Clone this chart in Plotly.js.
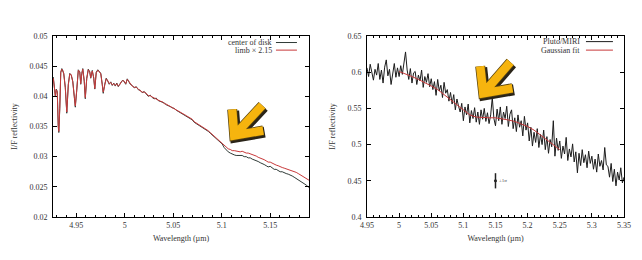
<!DOCTYPE html>
<html>
<head>
<meta charset="utf-8">
<script src="https://cdn.plot.ly/plotly-3.0.1.min.js"></script>
<style>html,body{margin:0;padding:0;background:#fff;}#chart{width:642px;height:260px;}</style>
</head>
<body>
<div id="chart"></div>
<script>
// ---- Left panel: center of disk vs limb x 2.15 ----
const waveLeft = [4.9263,4.9273,4.9284,4.9294,4.9304,4.9314,4.9320,4.9330,4.9340,4.9351,4.9361,4.9371,
4.9387,4.9402,4.9418,4.9433,4.9448,4.9464,4.9479,4.9490,4.9505,4.9521,
4.9536,4.9546,4.9557,4.9567,4.9582,4.9593,4.9608,4.9624,4.9639,4.9649,
4.9665,4.9680,4.9691,4.9706,4.9722,4.9737,4.9753,4.9768,4.9778,4.9794,
4.9809,4.9825,4.9840,4.9856,4.9871,4.9887,4.9902,4.9918,4.9933,4.9948,
4.9964,4.9979,4.9995,5.0010,5.0026,5.0041,5.0057,
5.0077,5.0098,5.0119,5.0139,5.0160,5.0180,5.0201,5.0222,5.0242,5.0263,
5.0283,5.0304,5.0325,5.0345,5.0366,5.0387,5.0407,5.0428,5.0448,5.0469,
5.0490,5.0510,5.0531,5.0552,5.0572,5.0593,5.0613,5.0634,5.0655,5.0675,
5.0696,5.0716,5.0737,5.0758,5.0778,5.0799,5.0820,5.0840,5.0861,5.0881,
5.0902,5.0923,5.0943,5.0964,5.0985,
5.1005,5.1026,5.1046,5.1067,5.1088,5.1108,5.1129,5.1149,5.1170,5.1191,
5.1211,5.1232,5.1253,5.1273,5.1294,5.1314,5.1335,5.1356,5.1376,5.1397,
5.1418,5.1438,5.1459,5.1479,5.1500,5.1521,5.1541,5.1562,5.1582,5.1603,
5.1624,5.1644,5.1665,5.1686,5.1706,5.1727,5.1747,5.1768,5.1789,5.1809,
5.1830,5.1851,5.1871,5.1892,5.1900];

const centerDisk = [0.0432,0.0415,0.0400,0.0412,0.0408,0.0350,0.0340,0.0380,0.0440,0.0446,0.0442,0.0438,
0.0415,0.0372,0.0420,0.0438,0.0435,0.0425,0.0400,0.0382,0.0410,0.0444,
0.0440,0.0420,0.0438,0.0446,0.0425,0.0396,0.0430,0.0445,0.0440,0.0430,
0.0443,0.0430,0.0412,0.0440,0.0444,0.0440,0.0438,0.0420,0.0405,0.0420,
0.0430,0.0425,0.0420,0.0424,0.0418,0.0422,0.0417,0.0422,0.0416,0.0420,
0.0423,0.0427,0.0424,0.0420,0.0429,0.0424,0.0420,
0.0418,0.0414,0.0416,0.0411,0.0410,0.0406,0.0408,0.0404,0.0400,0.0402,
0.0398,0.0396,0.0397,0.0393,0.0392,0.0390,0.0389,0.0386,0.0385,0.0383,
0.0381,0.0380,0.0377,0.0375,0.0373,0.0372,0.0369,0.0367,0.0366,0.0364,
0.0361,0.0357,0.0355,0.0353,0.0351,0.0349,0.0347,0.0344,0.0342,0.0339,
0.0336,0.0333,0.0331,0.0328,0.0325,
0.0321,0.0315,0.0311,0.0308,0.0306,0.0304,0.0303,0.0302,0.0302,0.0301,
0.0302,0.0300,0.0300,0.0298,0.0298,0.0296,0.0295,0.0293,0.0292,0.0290,
0.0289,0.0287,0.0285,0.0283,0.0284,0.0281,0.0279,0.0279,0.0277,0.0275,
0.0275,0.0273,0.0272,0.0271,0.0270,0.0268,0.0266,0.0264,0.0262,0.0259,
0.0257,0.0255,0.0253,0.0250,0.0249];

const limbScaled = [0.0430,0.0416,0.0401,0.0411,0.0407,0.0352,0.0342,0.0381,0.0439,0.0445,0.0443,0.0437,
0.0414,0.0374,0.0419,0.0437,0.0436,0.0424,0.0401,0.0384,0.0411,0.0443,
0.0441,0.0421,0.0437,0.0445,0.0426,0.0398,0.0429,0.0444,0.0441,0.0431,
0.0442,0.0431,0.0413,0.0439,0.0443,0.0441,0.0437,0.0421,0.0407,0.0419,
0.0429,0.0426,0.0421,0.0423,0.0419,0.0421,0.0418,0.0421,0.0417,0.0419,
0.0424,0.0426,0.0425,0.0421,0.0428,0.0425,0.0421,
0.0417,0.0415,0.0415,0.0412,0.0409,0.0407,0.0407,0.0405,0.0401,0.0401,
0.0399,0.0397,0.0396,0.0394,0.0392,0.0391,0.0388,0.0387,0.0385,0.0384,
0.0381,0.0379,0.0378,0.0376,0.0374,0.0372,0.0370,0.0368,0.0366,0.0364,
0.0362,0.0358,0.0356,0.0354,0.0352,0.0350,0.0348,0.0345,0.0343,0.0340,
0.0337,0.0334,0.0331,0.0329,0.0326,
0.0323,0.0319,0.0316,0.0313,0.0312,0.0310,0.0310,0.0309,0.0309,0.0308,
0.0309,0.0307,0.0306,0.0306,0.0305,0.0303,0.0302,0.0301,0.0299,0.0298,
0.0296,0.0295,0.0293,0.0291,0.0291,0.0289,0.0287,0.0286,0.0285,0.0283,
0.0282,0.0281,0.0280,0.0279,0.0278,0.0277,0.0275,0.0274,0.0272,0.0270,
0.0268,0.0266,0.0264,0.0262,0.0261];

// ---- Right panel: Pluto/MIRI spectrum and Gaussian fit ----
const waveRight = [4.95,4.9525,4.955,4.9575,4.96,4.9625,4.965,4.9675,4.97,4.9725,
4.975,4.9775,4.98,4.9825,4.985,4.9875,4.99,4.9925,4.995,4.9975,
5.0,5.0025,5.005,5.0075,5.01,5.0125,5.015,5.0175,5.02,5.0225,
5.025,5.0275,5.03,5.0325,5.035,5.0375,5.04,5.0425,5.045,5.0475,
5.05,5.0525,5.055,5.0575,5.06,5.0625,5.065,5.0675,5.07,5.0725,
5.075,5.0775,5.08,5.0825,5.085,5.0875,5.09,5.0925,5.095,5.0975,
5.1,5.1025,5.105,5.1075,5.11,5.1125,5.115,5.1175,5.12,5.1225,
5.125,5.1275,5.13,5.1325,5.135,5.1375,5.14,5.1425,5.145,5.1475,
5.15,5.1525,5.155,5.1575,5.16,5.1625,5.165,5.1675,5.17,5.1725,
5.175,5.1775,5.18,5.1825,5.185,5.1875,5.19,5.1925,5.195,5.1975,
5.2,5.2025,5.205,5.2075,5.21,5.2125,5.215,5.2175,5.22,5.2225,
5.225,5.2275,5.23,5.2325,5.235,5.2375,5.24,5.2425,5.245,5.2475,
5.25,5.2525,5.255,5.2575,5.26,5.2625,5.265,5.2675,5.27,5.2725,
5.275,5.2775,5.28,5.2825,5.285,5.2875,5.29,5.2925,5.295,5.2975,
5.3,5.3025,5.305,5.3075,5.31,5.3125,5.315,5.3175,5.32,5.3225,
5.325,5.3275,5.33,5.3325,5.335,5.3375,5.34,5.3425,5.345,5.3475,
5.35];

const plutoMiri = [0.606,0.594,0.611,0.598,0.589,0.604,0.596,0.612,0.590,0.603,
0.585,0.607,0.617,0.595,0.604,0.583,0.600,0.612,0.593,0.606,
0.594,0.609,0.597,0.616,0.628,0.603,0.590,0.605,0.585,0.599,
0.601,0.583,0.596,0.588,0.603,0.579,0.594,0.586,0.598,0.580,
0.591,0.576,0.587,0.568,0.590,0.574,0.582,0.565,0.586,0.571,
0.576,0.560,0.572,0.556,0.569,0.548,0.563,0.553,0.545,0.557,
0.533,0.552,0.541,0.556,0.530,0.547,0.536,0.551,0.531,0.545,
0.528,0.548,0.535,0.550,0.532,0.544,0.529,0.541,0.565,0.536,
0.526,0.549,0.533,0.552,0.528,0.545,0.536,0.553,0.525,0.542,
0.548,0.522,0.537,0.518,0.541,0.524,0.533,0.512,0.539,0.520,
0.530,0.505,0.524,0.498,0.517,0.503,0.522,0.496,0.514,0.500,
0.520,0.493,0.511,0.488,0.507,0.497,0.533,0.484,0.509,0.492,
0.505,0.481,0.498,0.487,0.510,0.478,0.494,0.483,0.501,0.476,
0.490,0.461,0.488,0.471,0.493,0.475,0.486,0.468,0.491,0.474,
0.484,0.466,0.480,0.462,0.487,0.470,0.478,0.465,0.496,0.472,
0.470,0.455,0.474,0.449,0.466,0.443,0.462,0.451,0.468,0.447,
0.455];

const waveFit = [5.00,5.01,5.02,5.03,5.04,5.05,5.06,5.07,5.08,5.09,5.10,5.11,5.12,5.13,
5.14,5.15,5.16,5.17,5.18,5.19,5.20,5.21,5.22,5.23,5.24,5.25];
const gaussFit = [0.601,0.598,0.594,0.590,0.586,0.581,0.576,0.569,0.562,0.554,0.547,0.541,0.538,0.537,
0.537,0.537,0.536,0.534,0.532,0.529,0.525,0.520,0.513,0.506,0.499,0.493];

const sigmaX = [5.15];
const sigmaY = [0.45];
const sigmaErr = [0.0105];

const leftXTicks = [4.95,5.0,5.05,5.1,5.15];
const leftXLabels = ['4.95','5','5.05','5.1','5.15'];
const leftYTicks = [0.02,0.025,0.03,0.035,0.04,0.045,0.05];
const leftYLabels = ['0.02','0.025','0.03','0.035','0.04','0.045','0.05'];
const rightXTicks = [4.95,5.0,5.05,5.1,5.15,5.2,5.25,5.3,5.35];
const rightXLabels = ['4.95','5','5.05','5.1','5.15','5.2','5.25','5.3','5.35'];
const rightYTicks = [0.4,0.45,0.5,0.55,0.6,0.65];
const rightYLabels = ['0.4','0.45','0.5','0.55','0.6','0.65'];

const SERIF = 'Liberation Serif, Times New Roman, serif';
const DARK = '#2f3a36';
const RED = '#c8393a';
const ORANGE = '#f6b40e';

const traces = [
  {x: waveLeft, y: centerDisk, xaxis:'x', yaxis:'y', mode:'lines', name:'center of disk',
   line:{color:DARK, width:1}, showlegend:false},
  {x: waveLeft, y: limbScaled, xaxis:'x', yaxis:'y', mode:'lines', name:'limb × 2.15',
   line:{color:RED, width:1}, showlegend:false},
  {x: waveRight, y: plutoMiri, xaxis:'x2', yaxis:'y2', mode:'lines', name:'Pluto/MIRI',
   line:{color:'#1c1c1c', width:1}, showlegend:false},
  {x: waveFit, y: gaussFit, xaxis:'x2', yaxis:'y2', mode:'lines', name:'Gaussian fit',
   line:{color:RED, width:1}, showlegend:false},
  {x: sigmaX, y: sigmaY, xaxis:'x2', yaxis:'y2', mode:'markers', showlegend:false,
   marker:{color:'#222', size:3},
   error_y:{type:'data', array:sigmaErr, visible:true, color:'#222', thickness:1.5, width:0}}
];

function axisX(domain, range, tickvals, ticktext, anchor){
  return {domain:domain, range:range, anchor:anchor, tickmode:'array', tickvals:tickvals, ticktext:ticktext,
    ticks:'inside', ticklen:4, tickcolor:'#000', showline:true, linecolor:'#000', linewidth:1, mirror:'ticks',
    showgrid:false, zeroline:false, tickfont:{family:SERIF, size:8, color:'#333'},
    minor:{dtick:0.01, ticks:'inside', ticklen:2, tickcolor:'#000', showgrid:false},
    title:{text:'Wavelength (µm)', font:{family:SERIF, size:8, color:'#333'}, standoff:6}};
}
function axisY(range, tickvals, ticktext, anchor){
  return {domain:[0,1], range:range, anchor:anchor, tickmode:'array', tickvals:tickvals, ticktext:ticktext,
    ticks:'inside', ticklen:4, tickcolor:'#000', showline:true, linecolor:'#000', linewidth:1, mirror:'ticks',
    showgrid:false, zeroline:false, tickfont:{family:SERIF, size:8, color:'#333'}, ticklabelstandoff:3,
    title:{text:'I/F reflectivity', font:{family:SERIF, size:8, color:'#333'}, standoff:10}};
}

const arrowLeft = 'M5.1108,0.03783 L5.1129,0.0335 L5.1428,0.03433 M5.1129,0.0335 L5.1418,0.0385';
const shadowLeft = 'M5.1123,0.03758 L5.1144,0.03325 L5.1443,0.03408 M5.1144,0.03325 L5.1433,0.03825';
const arrowRight = 'M5.1262,0.6083 L5.1309,0.5708 L5.1764,0.5778 M5.1309,0.5708 L5.1732,0.6139';
const shadowRight = 'M5.1285,0.6062 L5.1332,0.5687 L5.1787,0.5757 M5.1332,0.5687 L5.1755,0.6118';

const layout = {
  width:642, height:260,
  margin:{l:53, r:18, t:36, b:43},
  paper_bgcolor:'#fff', plot_bgcolor:'#fff',
  showlegend:false,
  xaxis: axisX([0,0.4483],[4.926,5.19],leftXTicks,leftXLabels,'y'),
  yaxis: axisY([0.02,0.05],leftYTicks,leftYLabels,'x'),
  xaxis2: axisX([0.5499,1],[4.95,5.35],rightXTicks,rightXLabels,'y2'),
  yaxis2: axisY([0.4,0.65],rightYTicks,rightYLabels,'x2'),
  shapes:[
    {type:'path', xref:'x', yref:'y', path:shadowLeft, line:{color:'#2a2418', width:11}, fillcolor:'rgba(0,0,0,0)', layer:'above'},
    {type:'path', xref:'x', yref:'y', path:arrowLeft, line:{color:'#5a4510', width:10}, fillcolor:'rgba(0,0,0,0)', layer:'above'},
    {type:'path', xref:'x', yref:'y', path:arrowLeft, line:{color:ORANGE, width:8.5}, fillcolor:'rgba(0,0,0,0)', layer:'above'},
    {type:'path', xref:'x2', yref:'y2', path:shadowRight, line:{color:'#2a2418', width:11}, fillcolor:'rgba(0,0,0,0)', layer:'above'},
    {type:'path', xref:'x2', yref:'y2', path:arrowRight, line:{color:'#5a4510', width:10}, fillcolor:'rgba(0,0,0,0)', layer:'above'},
    {type:'path', xref:'x2', yref:'y2', path:arrowRight, line:{color:ORANGE, width:8.5}, fillcolor:'rgba(0,0,0,0)', layer:'above'},
    {type:'line', xref:'x domain', yref:'y domain', x0:0.871, x1:0.953, y0:0.964, y1:0.964, line:{color:DARK, width:1}},
    {type:'line', xref:'x domain', yref:'y domain', x0:0.871, x1:0.953, y0:0.922, y1:0.922, line:{color:RED, width:1}},
    {type:'line', xref:'x2 domain', yref:'y2 domain', x0:0.852, x1:0.957, y0:0.969, y1:0.969, line:{color:'#1c1c1c', width:1}},
    {type:'line', xref:'x2 domain', yref:'y2 domain', x0:0.852, x1:0.957, y0:0.922, y1:0.922, line:{color:RED, width:1}}
  ],
  annotations:[
    {xref:'x domain', yref:'y domain', x:0.863, y:0.964, xanchor:'right', yanchor:'middle', showarrow:false,
     text:'center of disk', font:{family:SERIF, size:8, color:'#333'}},
    {xref:'x domain', yref:'y domain', x:0.863, y:0.922, xanchor:'right', yanchor:'middle', showarrow:false,
     text:'limb × 2.15', font:{family:SERIF, size:8, color:'#333'}},
    {xref:'x2 domain', yref:'y2 domain', x:0.835, y:0.969, xanchor:'right', yanchor:'middle', showarrow:false,
     text:'Pluto/MIRI', font:{family:SERIF, size:8, color:'#333'}},
    {xref:'x2 domain', yref:'y2 domain', x:0.835, y:0.922, xanchor:'right', yanchor:'middle', showarrow:false,
     text:'Gaussian fit', font:{family:SERIF, size:8, color:'#333'}},
    {xref:'x2', yref:'y2', x:5.153, y:0.45, xanchor:'left', yanchor:'middle', showarrow:false,
     text:'±1σ', font:{family:SERIF, size:5, color:'#555'}}
  ]
};

Plotly.newPlot('chart', traces, layout, {staticPlot:true, displayModeBar:false});
</script>
</body>
</html>
